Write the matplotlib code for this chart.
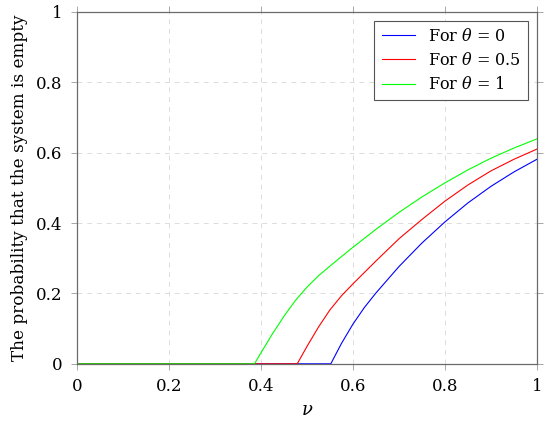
import matplotlib
matplotlib.use("Agg")
import matplotlib.pyplot as plt

plt.rcParams['font.family'] = ['DejaVu Serif']
plt.rcParams['mathtext.fontset'] = 'dejavuserif'

# readings (nu, probability)
nu_t0 = [0.0, 0.552, 0.575, 0.60, 0.625, 0.65, 0.70, 0.75, 0.80, 0.85, 0.90, 0.95, 1.0]
p_t0 = [0.0, 0.0, 0.0575, 0.1125, 0.160, 0.201, 0.276, 0.343, 0.403, 0.457, 0.504, 0.545, 0.581]

nu_t05 = [0.0, 0.479, 0.50, 0.525, 0.55, 0.575, 0.60, 0.625, 0.65, 0.70, 0.75, 0.80, 0.85, 0.90, 0.95, 1.0]
p_t05 = [0.0, 0.0, 0.049, 0.104, 0.153, 0.193, 0.227, 0.2595, 0.292, 0.355, 0.41, 0.462, 0.508, 0.548, 0.581, 0.610]

nu_t1 = [0.0, 0.386, 0.40, 0.425, 0.45, 0.475, 0.50, 0.525, 0.55, 0.575, 0.60, 0.65, 0.70, 0.75, 0.80, 0.85, 0.90, 0.95, 1.0]
p_t1 = [0.0, 0.0, 0.031, 0.085, 0.135, 0.18, 0.2175, 0.25, 0.2775, 0.3045, 0.331, 0.382, 0.430, 0.474, 0.514, 0.551, 0.584, 0.613, 0.639]

labels = [r'For $\theta$ = 0', r'For $\theta$ = 0.5', r'For $\theta$ = 1']
ticks = [0, 0.2, 0.4, 0.6, 0.8, 1]
tick_labels = ['0', '0.2', '0.4', '0.6', '0.8', '1']

fig = plt.figure(figsize=(5.5, 4.25), dpi=100)
ax = fig.add_axes([0.14, 0.144, 0.836, 0.828])

ax.plot(nu_t0, p_t0, color='#0000ff', lw=0.8, label=labels[0])
ax.plot(nu_t05, p_t05, color='#ff0000', lw=0.8, label=labels[1])
ax.plot(nu_t1, p_t1, color='#00ff00', lw=0.8, label=labels[2])

ax.set_xlim(0, 1)
ax.set_ylim(0, 1)
ax.set_xticks(ticks)
ax.set_xticklabels(tick_labels)
ax.set_yticks(ticks)
ax.set_yticklabels(tick_labels)
ax.tick_params(direction='out', top=True, right=True, labelsize=12, length=4.5,
               width=0.6, pad=6, colors='#999999', labelcolor='black')
ax.grid(True, ls=(0, (5, 5)), color='#dcdcdc', lw=0.7)
for sp in ax.spines.values():
    sp.set_color('#6a6a6a')
    sp.set_linewidth(0.9)
    sp.set_zorder(3)

ax.set_xlabel(r'$\nu$', fontsize=13)
ax.xaxis.set_label_coords(0.5, -0.105)
ax.set_ylabel('The probability that the system is empty', fontsize=12.2)
ax.yaxis.set_label_coords(-0.107, 0.5)

leg = ax.legend(loc='upper right', fontsize=11.5, fancybox=False, edgecolor='#555555',
                handlelength=2.1, handletextpad=0.8, borderaxespad=0.55,
                labelspacing=0.45, borderpad=0.45, framealpha=1)
leg.get_frame().set_linewidth(0.8)

fig.savefig('out.png', dpi=100)
